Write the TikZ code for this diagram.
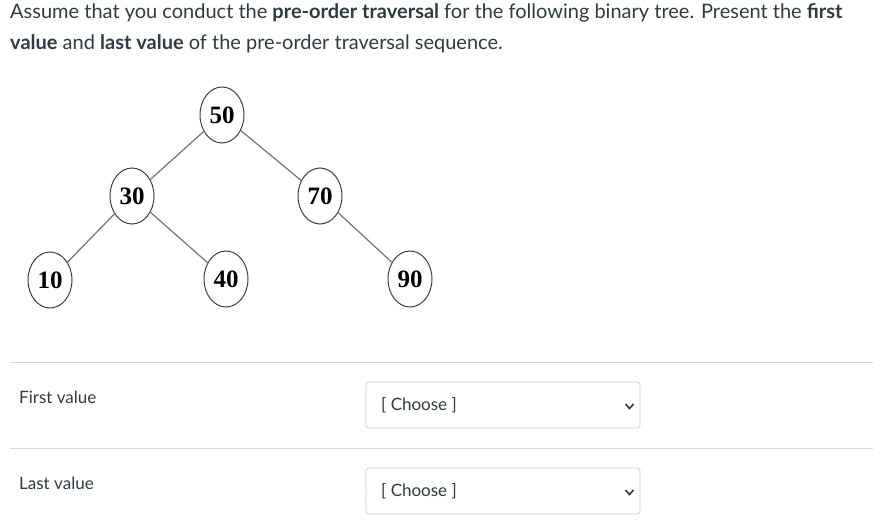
\documentclass[tikz,border=0pt]{standalone}
\usepackage{fontspec}
\setmainfont{Lato}
\newfontfamily\treefont{Liberation Serif}
\usetikzlibrary{shapes.geometric}
\definecolor{canvastext}{HTML}{2D3B45}
\definecolor{rulegray}{HTML}{D7DADE}
\definecolor{boxgray}{HTML}{C7CDD1}
\tikzstyle{treenode} = [ellipse,
minimum width=44pt,
minimum height=56pt,
inner sep=0pt,
draw=black!75,
line width=1pt,
font=\treefont\bfseries\fontsize{25}{25}\selectfont]
\tikzstyle{treeedge} = [draw=black!55, line width=1.2pt]
\tikzstyle{textonly} = [inner sep=0pt, text=canvastext,
font=\fontsize{17}{30}\selectfont]
\tikzstyle{question} = [textonly, anchor=base west,
font=\fontsize{20}{30}\selectfont]
\tikzstyle{choosebox} = [rectangle, rounded corners=3pt,
minimum width=274pt,
minimum height=46pt,
draw=boxgray, line width=0.8pt]

\begin{document}
\begin{tikzpicture}[x=1pt, y=-1pt]
		\useasboundingbox (0,0) rectangle (873,530);
		% question text
		\node (q1) [question] at (10,19)
		{Assume that you conduct the \textbf{pre-order traversal} for the following binary tree. Present the \textbf{first}};
		\node (q2) [question] at (10,49)
		{\textbf{value} and \textbf{last value} of the pre-order traversal sequence.};
		
		% tree
		\node (n50) [treenode] at (222,115) {50};
		\node (n30) [treenode] at (132,196) {30};
		\node (n70) [treenode] at (320,196) {70};
		\node (n10) [treenode] at (50,280) {10};
		\node (n40) [treenode] at (226,279) {40};
		\node (n90) [treenode] at (410,279) {90};
		
		\draw [treeedge](n50) -- (n30);
		\draw [treeedge](n50) -- (n70);
		\draw [treeedge](n30) -- (n10);
		\draw [treeedge](n30) -- (n40);
		\draw [treeedge](n70) -- (n90);
		
		% answer rows
		\coordinate (r1a) at (10,362);
		\coordinate (r1b) at (873,362);
		\coordinate (r2a) at (10,448);
		\coordinate (r2b) at (873,448);
		\draw [rulegray, line width=1pt](r1a) -- (r1b);
		\draw [rulegray, line width=1pt](r2a) -- (r2b);
		
		\node (first) [textonly, anchor=west] at (19,397) {First value};
		\node (last) [textonly, anchor=west] at (19,483) {Last value};
		
		\node (box1) [choosebox] at (503,405) {};
		\node (box2) [choosebox] at (503,491) {};
		\node (ch1) [textonly, anchor=west] at (381,405) {[ Choose ]};
		\node (ch2) [textonly, anchor=west] at (381,491) {[ Choose ]};
		
		\draw [canvastext, line width=1.6pt] (625.5,404) -- (629.5,408.5) -- (633.5,404);
		\draw [canvastext, line width=1.6pt] (625.5,490) -- (629.5,494.5) -- (633.5,490);
	\end{tikzpicture}
\end{document}
